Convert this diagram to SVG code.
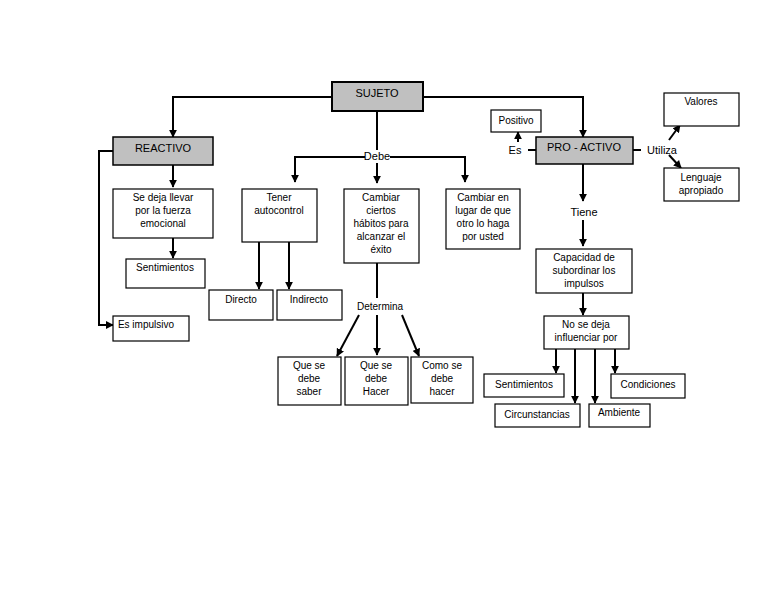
<svg xmlns="http://www.w3.org/2000/svg" width="768" height="594" viewBox="0 0 768 594">
<defs><marker id="a" viewBox="0 0 10 10" refX="9" refY="5" markerWidth="4" markerHeight="4" orient="auto"><path d="M0,0L10,5L0,10z" fill="#000"/></marker></defs>
<style>
rect{fill:#fff;stroke:#000;stroke-width:1.2}
rect.bg{stroke:none}
.g{fill:#c0c0c0;stroke-width:1.5}
text{font-family:"Liberation Sans",Arial,sans-serif;font-size:10px;text-anchor:middle;fill:#000}
.l{font-size:11px}
#c path{fill:none;stroke:#000;stroke-width:2}
#c .m{marker-end:url(#a)}
</style>
<rect class="bg" width="768" height="594"/>
<g id="c">
<path class="m" d="M332,97H173V137"/>
<path class="m" d="M423,97H583V137"/>
<path d="M377,111V150"/>
<path d="M295,180V157H365M390,157H465V180"/>
<path class="m" d="M295,170V182"/>
<path class="m" d="M377,163V183"/>
<path class="m" d="M465,170V182"/>
<path class="m" d="M113,151H99V325H113"/>
<path class="m" d="M173,165V187"/>
<path class="m" d="M173,238V258"/>
<path class="m" d="M259,242V289"/>
<path class="m" d="M289,242V289"/>
<path d="M377,263V298"/>
<path class="m" d="M359,315L337,356"/>
<path class="m" d="M377,315V355"/>
<path class="m" d="M402,315L419,356"/>
<path d="M536,150H528"/>
<path class="m" d="M518,142V132"/>
<path d="M633,150H641"/>
<path class="m" d="M669,140L680,125"/>
<path class="m" d="M669,155L681,168"/>
<path class="m" d="M583,164V201"/>
<path class="m" d="M583,220V246"/>
<path class="m" d="M583,293V315"/>
<path class="m" d="M556,349V373"/>
<path class="m" d="M575,349V403"/>
<path class="m" d="M595,349V403"/>
<path class="m" d="M615,349V373"/>
</g>
<g id="sujeto"><rect class="g" x="332" y="82" width="91" height="29" style="stroke-width:2"/><text class="l" x="377" y="97">SUJETO</text></g>
<g id="reactivo"><rect class="g" x="113" y="137" width="100" height="28"/><text class="l" x="163" y="152">REACTIVO</text></g>
<g id="sedeja"><rect x="113" y="189" width="100" height="49"/><text x="163" y="201">Se deja llevar</text><text x="163" y="214">por la fuerza</text><text x="163" y="227">emocional</text></g>
<g id="sent1"><rect x="126" y="259" width="79" height="29"/><text x="165" y="271">Sentimientos</text></g>
<g id="impulsivo"><rect x="113" y="316" width="76" height="25"/><text x="146" y="328">Es impulsivo</text></g>
<text class="l" x="377" y="160">Debe</text>
<g id="tener"><rect x="242" y="189" width="75" height="53"/><text x="279" y="201">Tener</text><text x="279" y="214">autocontrol</text></g>
<g id="cambiar1"><rect x="344" y="189" width="75" height="74"/><text x="381" y="201">Cambiar</text><text x="381" y="214">ciertos</text><text x="381" y="227">hábitos para</text><text x="381" y="240">alcanzar el</text><text x="381" y="253">éxito</text></g>
<g id="cambiar2"><rect x="446" y="189" width="74" height="60"/><text x="483" y="201">Cambiar en</text><text x="483" y="214">lugar de que</text><text x="483" y="227">otro lo haga</text><text x="483" y="240">por usted</text></g>
<g id="directo"><rect x="209" y="290" width="64" height="30"/><text x="241" y="303">Directo</text></g>
<g id="indirecto"><rect x="277" y="290" width="65" height="30"/><text x="309" y="303">Indirecto</text></g>
<text x="380" y="310">Determina</text>
<g id="saber"><rect x="278" y="357" width="63" height="48"/><text x="309" y="369">Que se</text><text x="309" y="382">debe</text><text x="309" y="395">saber</text></g>
<g id="hacer1"><rect x="345" y="357" width="63" height="48"/><text x="376" y="369">Que se</text><text x="376" y="382">debe</text><text x="376" y="395">Hacer</text></g>
<g id="hacer2"><rect x="411" y="357" width="62" height="46"/><text x="442" y="369">Como se</text><text x="442" y="382">debe</text><text x="442" y="395">hacer</text></g>
<g id="positivo"><rect x="491" y="110" width="50" height="22"/><text x="516" y="124">Positivo</text></g>
<text class="l" x="515" y="154">Es</text>
<g id="proactivo"><rect class="g" x="536" y="137" width="97" height="27"/><text class="l" x="584" y="151">PRO - ACTIVO</text></g>
<text class="l" x="662" y="154">Utiliza</text>
<g id="valores"><rect x="664" y="93" width="75" height="33"/><text x="701" y="105">Valores</text></g>
<g id="lenguaje"><rect x="664" y="168" width="75" height="33"/><text x="701" y="181">Lenguaje</text><text x="701" y="194">apropiado</text></g>
<text class="l" x="584" y="216">Tiene</text>
<g id="capacidad"><rect x="536" y="249" width="96" height="44"/><text x="584" y="261">Capacidad de</text><text x="584" y="274">subordinar los</text><text x="584" y="287">impulsos</text></g>
<g id="nosedeja"><rect x="544" y="316" width="85" height="33"/><text x="586" y="328">No se deja</text><text x="586" y="341">influenciar por</text></g>
<g id="sent2"><rect x="484" y="374" width="80" height="23"/><text x="524" y="388">Sentimientos</text></g>
<g id="condiciones"><rect x="611" y="374" width="74" height="24"/><text x="648" y="388">Condiciones</text></g>
<g id="circ"><rect x="495" y="404" width="85" height="23"/><text x="537" y="418">Circunstancias</text></g>
<g id="ambiente"><rect x="589" y="404" width="61" height="23"/><text x="619" y="416">Ambiente</text></g>
</svg>
